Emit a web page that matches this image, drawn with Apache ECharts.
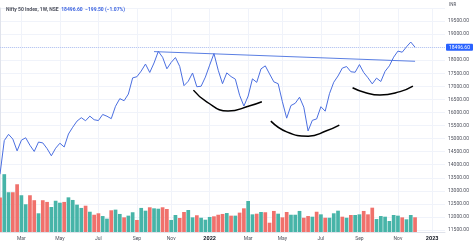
<!DOCTYPE html>
<html><head><meta charset="utf-8">
<script src="https://cdn.jsdelivr.net/npm/echarts@6/dist/echarts.min.js"></script>
<style>html,body{margin:0;padding:0;background:#fff}#c{width:474px;height:244px}</style>
</head><body><div id="c"></div>
<script>
// weekly closes, week of 2021-01-25 .. week of 2022-12-05
const closes = [13634.6,14924.25,15163.3,14981.75,14529.15,14938.1,15030.95,14744.0,14507.3,14867.35,
14834.85,14617.85,14341.35,14631.1,14823.15,14677.8,15175.3,15435.65,15670.25,15799.35,
15683.35,15860.35,15722.2,15689.8,15923.4,15856.05,15763.05,16238.2,16529.1,16450.5,
16705.2,17323.6,17369.25,17585.15,17853.2,17532.05,17895.2,18338.55,18114.9,17671.65,
17916.8,18102.75,17764.8,17026.45,17196.7,17511.3,16985.2,17003.75,17354.05,17812.7,
18255.75,17617.15,17101.95,17516.3,17374.75,17276.3,16658.4,16245.35,16630.45,17287.05,
17153.0,17670.45,17784.35,17475.65,17171.95,17102.55,16411.25,15782.15,16266.15,16352.45,
16584.3,16201.8,15293.5,15699.25,15752.05,16220.6,16049.2,16719.45,17158.25,17397.5,
17698.15,17758.45,17558.9,17539.45,17833.35,17530.85,17327.35,17094.35,17314.65,17185.7,
17576.3,17786.8,18117.15,18349.7,18307.65,18512.75,18696.1,18496.6];
// weekly volume (billions)
const volumes = [2.64,4.42,3.04,3.04,3.65,2.81,2.12,2.81,2.43,1.43,
2.43,2.30,1.91,2.39,2.24,2.30,2.65,2.45,2.09,1.84,
2.01,1.55,1.32,1.43,1.22,1.02,1.66,1.71,1.38,1.12,
1.25,1.51,0.92,1.84,1.63,1.89,1.81,1.78,1.89,1.76,
0.92,1.30,1.07,1.53,1.68,1.12,1.28,1.09,0.94,1.15,
1.20,1.32,1.38,1.45,1.25,1.25,1.48,1.81,2.37,1.35,
1.40,1.53,1.51,0.71,1.61,1.40,1.12,1.53,1.32,1.32,
1.61,1.09,1.22,1.17,1.55,1.35,1.09,1.09,1.43,1.63,
1.17,1.09,1.30,1.30,1.35,1.61,1.35,1.86,0.99,1.22,
1.17,0.84,1.30,1.25,1.12,0.97,1.30,1.125];
// candle direction per week: u = up (teal), d = down (red)
const directions = ['duudduuddu','dduuuduuuu','dudduuduud','uuduuduudd','uudduuduuu',
  'dddududduu','dudddudduu','uddududuuu','duduuddduu','uuuuduud'].join('');
const trendLine = [[36,18330],[97,17960]];
const arcLeft = [[45.2,16856],[48.3,16408],[53.3,16052],[58.4,16255],[61.2,16408]];
const arcHead = [[63.3,15669],[67.0,15259],[72.05,15094],[76.3,15297],[79.3,15515]];
const arcRight = [[82.4,16945],[85.3,16761],[88.8,16665],[93.5,16799],[96.5,17010]];
const monthNames = ['Jan','Feb','Mar','Apr','May','Jun','Jul','Aug','Sep','Oct','Nov','Dec'];
const startWeek = Date.UTC(2021,0,25);
const weekCount = 105;
const categories = [];
for (let i=0;i<weekCount;i++){ const d=new Date(startWeek+i*7*86400000); categories.push(d.toISOString().slice(0,10)); }

const UP='#47b4a8', DOWN='#f0716c';
const volData = volumes.map((v,i)=>({value:v,itemStyle:{color:directions[i]==='u'?UP:DOWN}}));
const showTick = (idx, val) => { const d=new Date(val+'T00:00:00Z'); return d.getUTCDate()<=7 && d.getUTCMonth()%2===0; };
const last = closes[closes.length-1];
const lastVol = volumes[volumes.length-1];

const chart = echarts.init(document.getElementById('c'), null, {renderer:'canvas'});
chart.setOption({
  animation:false,
  backgroundColor:'#fff',
  textStyle:{fontFamily:'Roboto, "DejaVu Sans", sans-serif'},
  title:{left:1,top:2,text:'{a|Nifty 50 Index, 1W, NSE}  {b|18496.60}  {b|\u2212199.50 (\u22121.07%)}',
    textStyle:{fontSize:5,rich:{a:{fontSize:5,color:'#50535e'},b:{fontSize:5,color:'#3f66e0'}}}},
  graphic:[{type:'text',left:449,top:2,style:{text:'INR',fontSize:4.5,fill:'#50535e',fontFamily:'Roboto'}}],
  grid:[{left:0,right:29,top:8,bottom:14},{left:0,right:29,top:166.6,bottom:12}],
  xAxis:[
    {type:'category',gridIndex:0,data:categories,boundaryGap:false,axisLabel:{show:false},axisTick:{show:false},axisLine:{show:false},
     splitLine:{show:true,interval:showTick,lineStyle:{color:'#f0f3fa',width:1}}},
    {type:'category',gridIndex:1,data:categories,boundaryGap:false,axisTick:{show:false},
     axisLine:{show:true,lineStyle:{color:'#e0e3eb'}},
     splitLine:{show:true,interval:showTick,lineStyle:{color:'#f0f3fa',width:1}},
     axisLabel:{interval:showTick,fontSize:5,color:'#50535e',margin:4,
       formatter:(val)=>{const d=new Date(val+'T00:00:00Z'); const m=d.getUTCMonth(); return m===0?'{y|'+d.getUTCFullYear()+'}':monthNames[m];},
       rich:{y:{fontSize:5.5,fontWeight:'bold',color:'#131722'}}}},
    {type:'value',gridIndex:0,min:0,max:weekCount-1,show:false}
  ],
  yAxis:[
    {type:'value',gridIndex:0,position:'right',min:11500,max:20000,interval:500,
     axisLine:{show:true,lineStyle:{color:'#e0e3eb'}},axisTick:{show:false},
     splitLine:{lineStyle:{color:'#f0f3fa'}},
     axisLabel:{fontSize:5,color:'#50535e',margin:3,showMaxLabel:false,formatter:v=>v.toFixed(2)}},
    {type:'value',gridIndex:1,min:0,max:5,show:false}
  ],
  series:[
    {type:'bar',xAxisIndex:1,yAxisIndex:1,data:volData,barWidth:3.7,z:1,
     markLine:{silent:true,symbol:'none',lineStyle:{opacity:0},
       label:{position:'end',distance:1,formatter:p=>p.value.toFixed(3)+'B',backgroundColor:'#ef5350',color:'#fff',fontSize:5,padding:[1,3],borderRadius:1},
       data:[{yAxis:lastVol},{yAxis:lastVol,label:{offset:[0,8]}}]}},
    {type:'line',xAxisIndex:0,yAxisIndex:0,data:closes,symbol:'none',lineStyle:{color:'#4b6fe0',width:1},z:5,
     markLine:{silent:true,symbol:'none',lineStyle:{type:'dotted',color:'#b9c8f3',width:1},
       label:{position:'end',distance:1,formatter:()=>last.toFixed(2),backgroundColor:'#2962ff',color:'#fff',fontSize:5,padding:[1,3],borderRadius:1},
       data:[{yAxis:last}]}},
    {type:'line',xAxisIndex:2,yAxisIndex:0,data:trendLine,symbol:'none',lineStyle:{color:'#5b7fe3',width:1},z:4},
    {type:'line',xAxisIndex:2,yAxisIndex:0,data:arcLeft,symbol:'none',smooth:0.5,lineStyle:{color:'#000',width:1.5},z:6},
    {type:'line',xAxisIndex:2,yAxisIndex:0,data:arcHead,symbol:'none',smooth:0.5,lineStyle:{color:'#000',width:1.5},z:6},
    {type:'line',xAxisIndex:2,yAxisIndex:0,data:arcRight,symbol:'none',smooth:0.5,lineStyle:{color:'#000',width:1.5},z:6}
  ]
});
</script></body></html>
